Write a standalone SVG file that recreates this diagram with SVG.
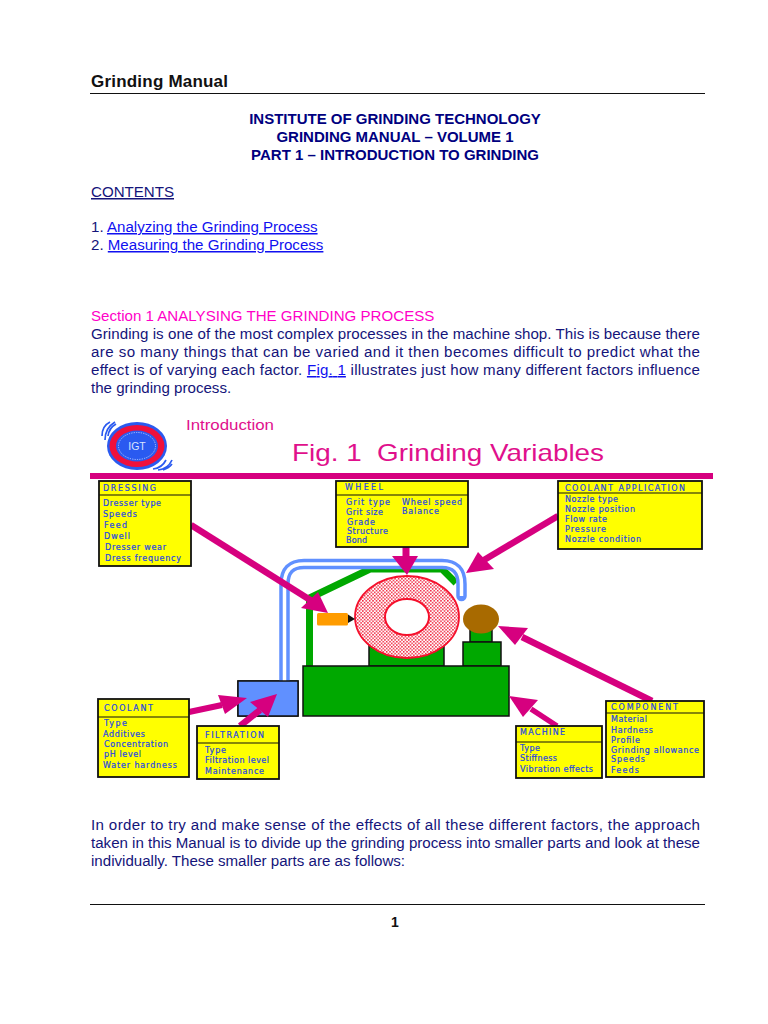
<svg xmlns="http://www.w3.org/2000/svg" width="768" height="1024" viewBox="0 0 768 1024">
<style>
text{font-family:"Liberation Sans",Arial,sans-serif}
.hd{font-size:15px;font-weight:bold;fill:#000080;text-anchor:middle}
.bd{font-size:15.1px;fill:#14147a}
.lk{fill:#1010f0;text-decoration:underline}
.bx{fill:#ffff00;stroke:#111;stroke-width:1.8}
.dv{stroke:#111;stroke-width:1.2;fill:none}
.t{font-size:8px;fill:#1e46e0;stroke:#1e46e0;stroke-width:.2;font-family:"DejaVu Sans",sans-serif}
.ar{fill:#d6007f;stroke:none}
.sh{stroke:#d6007f;fill:none}
.gr{fill:#00a800;stroke:#111;stroke-width:1.5}
</style>
<defs>
<pattern id="dots" width="3.4" height="3.4" patternUnits="userSpaceOnUse">
<rect width="3.4" height="3.4" fill="#fff"/>
<rect x="0" y="0" width="1.5" height="1.5" fill="#f0203a"/>
<rect x="1.7" y="1.7" width="1.5" height="1.5" fill="#f0203a"/>
</pattern>
</defs>
<rect width="768" height="1024" fill="#fff"/>
<g id="page-text">
<text x="91" y="87" font-size="17" font-weight="bold" fill="#111" textLength="137" lengthAdjust="spacing">Grinding Manual</text>
<line x1="90" y1="93.500" x2="705" y2="93.500" stroke="#111"/>
<text class="hd" x="395" y="124">INSTITUTE OF GRINDING TECHNOLOGY</text>
<text class="hd" x="395" y="142">GRINDING MANUAL – VOLUME 1</text>
<text class="hd" x="395" y="160">PART 1 – INTRODUCTION TO GRINDING</text>
<text class="bd" x="91" y="197" style="text-decoration:underline" fill="#20208a">CONTENTS</text>
<text class="bd" x="91" y="232">1. <tspan class="lk">Analyzing the Grinding Process</tspan></text>
<text class="bd" x="91" y="250">2. <tspan class="lk">Measuring the Grinding Process</tspan></text>
<text x="91" y="321" font-size="15.1" fill="#ff00c8">Section 1 ANALYSING THE GRINDING PROCESS</text>
<text class="bd" x="91" y="339" textLength="609" lengthAdjust="spacing">Grinding is one of the most complex processes in the machine shop. This is because there</text>
<text class="bd" x="91" y="357" textLength="609" lengthAdjust="spacing">are so many things that can be varied and it then becomes difficult to predict what the</text>
<text class="bd" x="91" y="375" textLength="609" lengthAdjust="spacing">effect is of varying each factor. <tspan class="lk">Fig. 1</tspan> illustrates just how many different factors influence</text>
<text class="bd" x="91" y="393">the grinding process.</text>
<text class="bd" x="91" y="830" textLength="609" lengthAdjust="spacing">In order to try and make sense of the effects of all these different factors, the approach</text>
<text class="bd" x="91" y="848" textLength="609" lengthAdjust="spacing">taken in this Manual is to divide up the grinding process into smaller parts and look at these</text>
<text class="bd" x="91" y="866">individually. These smaller parts are as follows:</text>
<line x1="90" y1="904.500" x2="705" y2="904.500" stroke="#111"/>
<text x="395" y="927" font-size="14" font-weight="bold" fill="#111" text-anchor="middle">1</text>
</g>
<g id="logo">
<path d="M102 436q0-10 8-14M105 440q0-12 10-18M108 436q1-8 8-12M153 469q9-1 13-9M158 470q10-1 14-10M163 470q6-2 9-6" fill="none" stroke="#2a5af0" stroke-width="1.700"/>
<ellipse cx="137" cy="446" rx="30" ry="24" fill="#2a5af0"/>
<ellipse cx="137" cy="446" rx="27.500" ry="21" fill="#f0103c"/>
<ellipse cx="137" cy="446" rx="21" ry="15.500" fill="#2a5af0"/>
<ellipse cx="137" cy="446" rx="18.500" ry="13.500" fill="none" stroke="#cfdcff" stroke-width="0.800" stroke-dasharray="1.200 1.200"/>
<text x="137" y="450" font-size="10.500" fill="#d8e4ff" text-anchor="middle">IGT</text>
</g>
<g id="title">
<text x="186" y="430" font-size="14.500" fill="#e0108c" textLength="88" lengthAdjust="spacingAndGlyphs">Introduction</text>
<text x="292" y="461" font-size="24" fill="#e0108c" textLength="312" lengthAdjust="spacingAndGlyphs" xml:space="preserve">Fig. 1  Grinding Variables</text>
<rect x="90" y="473" width="623" height="6" fill="#d6007f"/>
</g>
<g id="machine">
<path d="M309.500 666V598L370 569H442L456 583" fill="none" stroke="#00a800" stroke-width="7"/>
<rect class="gr" x="369" y="640" width="75" height="26"/>
<rect class="gr" x="470" y="628" width="22" height="14"/>
<rect class="gr" x="463" y="642" width="38" height="24"/>
<rect class="gr" x="303" y="666" width="206" height="50"/>
<ellipse cx="481" cy="619" rx="18" ry="14.500" fill="#a86a00"/>
</g>
<g id="wheel">
<ellipse cx="407" cy="617" rx="52" ry="41" fill="url(#dots)" stroke="#f5102c" stroke-width="1.800"/>
<ellipse cx="407" cy="617" rx="22" ry="18" fill="#fff" stroke="#f5102c" stroke-width="2"/>
</g>
<g id="dresser">
<rect x="317" y="613" width="31" height="12.500" rx="1.500" fill="#ff9c00"/>
<path d="M348 614.500L355 619L348 623Z" fill="#111"/>
</g>
<g id="tank">
<rect x="238" y="681" width="60" height="35" fill="#6090ff" stroke="#111" stroke-width="1.500"/>
<path d="M284.500 681V584Q284.500 564 304 564H442Q461.500 564 461.500 584V596" fill="none" stroke="#6090ff" stroke-width="10.500" stroke-linecap="round"/>
<path d="M284.500 683V584Q284.500 564 304 564H442Q461.500 564 461.500 584V596" fill="none" stroke="#fff" stroke-width="3.500"/>
<rect x="238" y="681" width="60" height="35" fill="#6090ff" stroke="#111" stroke-width="1.500"/>
</g>
<g id="connectors">
<path class="sh" stroke-width="6.500" d="M191 525L315 603"/>
<polygon class="ar" points="328,613 301,608 318,592"/>
<path class="sh" stroke-width="7" d="M406 547V558"/>
<polygon class="ar" points="407,575 392,556 418,556"/>
<path class="sh" stroke-width="6.500" d="M558 516L484 560"/>
<polygon class="ar" points="466,573 478,552 494,569"/>
<path class="sh" stroke-width="6" d="M189 712L222 705"/>
<polygon class="ar" points="247,698 218,695 225,714"/>
<path class="sh" stroke-width="6.500" d="M240 726L260 710"/>
<polygon class="ar" points="277,694 250,702 268,717"/>
<path class="sh" stroke-width="5.500" d="M557 726L531 709"/>
<polygon class="ar" points="509,696 538,700 523,717"/>
<path class="sh" stroke-width="6.500" d="M652 701L522 637"/>
<polygon class="ar" points="498,626 528,628 515,645"/>
</g>
<g id="node-dressing">
<rect class="bx" x="99" y="481" width="92" height="85"/><line class="dv" x1="99" y1="495" x2="191" y2="495"/>
<text class="t" x="103" y="491" textLength="53">DRESSING</text>
<text class="t" x="103" y="506" textLength="58">Dresser type</text>
<text class="t" x="103" y="517" textLength="34">Speeds</text>
<text class="t" x="104" y="528" textLength="23">Feed</text>
<text class="t" x="104" y="539" textLength="26">Dwell</text>
<text class="t" x="105" y="550" textLength="61">Dresser wear</text>
<text class="t" x="105" y="561" textLength="76">Dress frequency</text>
</g>
<g id="node-wheel">
<rect class="bx" x="336" y="481" width="132" height="66"/><line class="dv" x1="336" y1="495" x2="468" y2="495"/>
<text class="t" x="345" y="490" textLength="38">WHEEL</text>
<text class="t" x="346" y="505" textLength="44">Grit type</text>
<text class="t" x="346" y="515" textLength="37">Grit size</text>
<text class="t" x="347" y="525" textLength="28">Grade</text>
<text class="t" x="347" y="534" textLength="41">Structure</text>
<text class="t" x="346" y="543" textLength="21">Bond</text>
<text class="t" x="402" y="505" textLength="60">Wheel speed</text>
<text class="t" x="402" y="514" textLength="37">Balance</text>
</g>
<g id="node-coolant-application">
<rect class="bx" x="558" y="481" width="144" height="68"/><line class="dv" x1="558" y1="493" x2="702" y2="493"/>
<text class="t" x="565" y="491" textLength="120">COOLANT APPLICATION</text>
<text class="t" x="565" y="502" textLength="53">Nozzle type</text>
<text class="t" x="565" y="512" textLength="70">Nozzle position</text>
<text class="t" x="565" y="522" textLength="42">Flow rate</text>
<text class="t" x="565" y="532" textLength="41">Pressure</text>
<text class="t" x="565" y="542" textLength="76">Nozzle condition</text>
</g>
<g id="node-coolant">
<rect class="bx" x="98" y="699" width="91" height="78"/><line class="dv" x1="98" y1="717" x2="189" y2="717"/>
<text class="t" x="104" y="711" textLength="49">COOLANT</text>
<text class="t" x="104" y="726" textLength="23">Type</text>
<text class="t" x="103" y="737" textLength="42">Additives</text>
<text class="t" x="104" y="747" textLength="64">Concentration</text>
<text class="t" x="104" y="757" textLength="37">pH level</text>
<text class="t" x="103" y="768" textLength="74">Water hardness</text>
</g>
<g id="node-filtration">
<rect class="bx" x="197" y="726" width="82" height="53"/><line class="dv" x1="197" y1="743" x2="279" y2="743"/>
<text class="t" x="205" y="738" textLength="59">FILTRATION</text>
<text class="t" x="205" y="753" textLength="21">Type</text>
<text class="t" x="205" y="763" textLength="64">Filtration level</text>
<text class="t" x="205" y="774" textLength="59">Maintenance</text>
</g>
<g id="node-machine">
<rect class="bx" x="516" y="726" width="86" height="52"/><line class="dv" x1="516" y1="742" x2="602" y2="742"/>
<text class="t" x="520" y="735" textLength="45">MACHINE</text>
<text class="t" x="520" y="751" textLength="20">Type</text>
<text class="t" x="520" y="761" textLength="37">Stiffness</text>
<text class="t" x="520" y="772" textLength="73">Vibration effects</text>
</g>
<g id="node-component">
<rect class="bx" x="606" y="701" width="98" height="76"/><line class="dv" x1="606" y1="713" x2="704" y2="713"/>
<text class="t" x="611" y="710" textLength="67">COMPONENT</text>
<text class="t" x="611" y="722" textLength="36">Material</text>
<text class="t" x="611" y="733" textLength="42">Hardness</text>
<text class="t" x="611" y="743" textLength="29">Profile</text>
<text class="t" x="611" y="753" textLength="88">Grinding allowance</text>
<text class="t" x="611" y="762" textLength="34">Speeds</text>
<text class="t" x="611" y="773" textLength="28">Feeds</text>
</g>
</svg>
